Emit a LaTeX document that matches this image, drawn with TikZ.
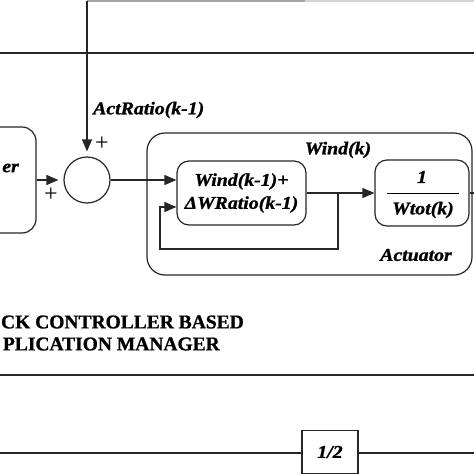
\documentclass[tikz,border=0pt]{standalone}
\usepackage{fontspec}
\setmainfont{Liberation Serif}
\newfontfamily\labfont[FakeStretch=1.1,FakeBold=1.2]{Liberation Serif}
\newfontfamily\captfont[FakeBold=1.0]{Liberation Serif}
\usetikzlibrary{arrows.meta,calc}
\begin{document}
\begin{tikzpicture}[x=1pt,y=-1pt,
  ln/.style={line width=1.2pt, draw=black!85},
  arr/.style={ln,-{Triangle[length=12pt,width=10pt]}},
  lab/.style={font=\labfont\fontsize{18}{22}\selectfont\bfseries\itshape, inner sep=0pt, align=center},
  plus/.style={font=\fontsize{24}{24}\selectfont, inner sep=0pt},
  blk/.style={ln, rounded corners=12pt, inner sep=0pt},
  capt/.style={font=\captfont\fontsize{19.5}{22}\selectfont\bfseries, inner sep=0pt}]
\useasboundingbox (0,0) rectangle (474,474);
\clip (0,0) rectangle (474,474);

% top feedback lines
\coordinate (top) at (87,0.8);
\coordinate (topmid) at (305,0.8);
\coordinate (topright) at (474,0.8);
\draw[line width=1.8pt, gray!70] (top) -- (topmid);
\draw[line width=1.8pt, gray!35] (topmid) -- (topright);

% frame lines
\coordinate (l1a) at (0,53);  \coordinate (l1b) at (474,53);
\coordinate (l2a) at (0,375); \coordinate (l2b) at (474,375);
\draw[ln] (l1a) -- (l1b);
\draw[ln] (l2a) -- (l2b);

% nodes
\node[blk, rounded corners=14pt, minimum width=66pt, minimum height=106pt] (ctl) at (3,180) {};
\node[lab, anchor=east] (ctltxt) at (19,168) {er};
\node[ln, circle, minimum size=46pt, inner sep=0pt] (sum) at (87,180) {};
\node[blk, rounded corners=18pt, minimum width=325pt, minimum height=142pt] (act) at (309.5,204) {};
\node[blk, minimum width=129pt, minimum height=64pt, lab, draw] (wind) at (241.5,193) {Wind(k-1)+\\[1pt]ΔWRatio(k-1)};
\node[blk, minimum width=94pt, minimum height=66pt] (frac) at (422,193) {};
\node[lab] (one) at (422,177) {1};
\node[lab] (wtot) at (423,210) {Wtot(k)};
\coordinate (fl) at (387,193); \coordinate (fr) at (459,193);
\draw[line width=1pt] (fl) -- (fr);
\node[ln, minimum width=56pt, minimum height=43pt, inner sep=0pt] (half) at (330,452) {};
\node[lab] (halftxt) at (330,452) {1/2};

% labels
\node[lab, anchor=west] (actratio) at (93,110) {ActRatio(k-1)};
\node[plus] (p1) at (102,144) {+};
\node[plus] (p2) at (51,195) {+};
\node[lab] (windk) at (338,150) {Wind(k)};
\node[lab] (actl) at (416,255) {Actuator};
\node[capt, anchor=east] (c1) at (244,322) {CK CONTROLLER BASED};
\node[capt, anchor=east] (c2) at (220,344) {PLICATION MANAGER};

% connectors
\draw[arr, shorten >=5pt] (top) -- (sum.north);
\draw[arr, shorten >=5pt] (ctl.east |- sum.west) -- (sum.west);
\draw[arr] (sum.east) -- ([yshift=13pt]wind.west);
\coordinate (br) at (338,193);
\coordinate (fb) at (160,249);
\draw[arr] (wind.east) -- (frac.west);
\draw[arr] (br) |- (fb) |- ([yshift=-14pt]wind.west);
\coordinate (outr) at (474,193);
\draw[ln] (frac.east) -- (outr);
\coordinate (hl) at (0,453); \coordinate (hr) at (474,453);
\draw[ln] (hl) -- (hl -| half.west);
\draw[ln] (hr -| half.east) -- (hr);
\end{tikzpicture}
\end{document}
